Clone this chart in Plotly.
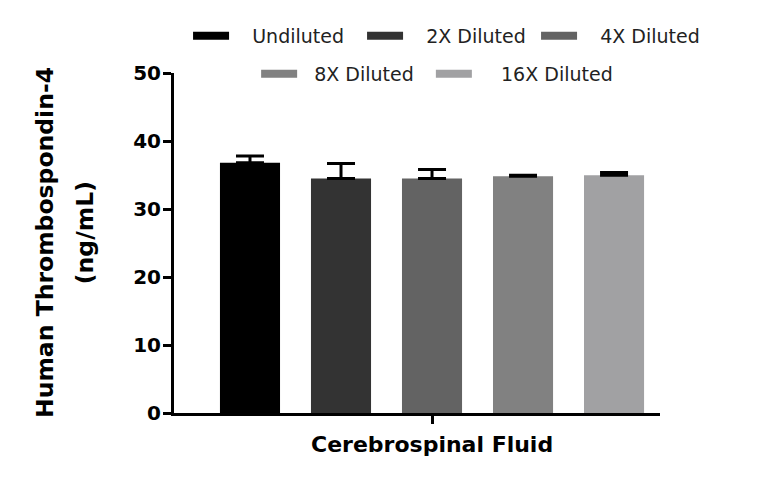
import plotly.graph_objects as go

categories = ["Cerebrospinal Fluid"]
series_names = ["Undiluted", "2X Diluted", "4X Diluted", "8X Diluted", "16X Diluted"]
values = [36.8, 34.5, 34.5, 34.8, 34.95]
errors = [1.0, 2.2, 1.3, 0.15, 0.4]
colors = ["#000000", "#333333", "#636363", "#818181", "#a1a1a3"]
y_ticks = [0, 10, 20, 30, 40, 50]
legend_lead = [3, 3, 3, 2, 4]
legend_trail = [0, 0, 0, 2, 0]

BOLD = "DejaVu Sans"
NB = "\u00a0"
fig = go.Figure()
for i, (name, v, e, c) in enumerate(zip(series_names, values, errors, colors)):
    fig.add_trace(go.Bar(
        x=categories, y=[v], name=name, marker=dict(color=c, line=dict(width=0)),
        error_y=dict(type="data", array=[e], arrayminus=[0], symmetric=False,
                     color="black", thickness=3, width=14),
        showlegend=False, offsetgroup=str(i)))
    fig.add_trace(go.Scatter(
        x=[None], y=[None], mode="lines", name=NB * legend_lead[i] + name + NB * legend_trail[i],
        line=dict(color=c, width=8),
        legend="legend" if i < 3 else "legend2"))

leg_font = dict(size=19, family="DejaVu Sans", color="#222")
fig.update_layout(
    width=768, height=482,
    margin=dict(l=174, r=108, t=73, b=69, autoexpand=False),
    paper_bgcolor="white", plot_bgcolor="white",
    barmode="group", bargap=0, bargroupgap=0.34,
    font=dict(family=BOLD, color="black"),
    legend=dict(orientation="h", x=1.103, xanchor="right", y=1.109, yanchor="middle",
                font=leg_font, itemwidth=36, entrywidth=123, bgcolor="rgba(0,0,0,0)", borderwidth=0),
    legend2=dict(orientation="h", x=0.169, xanchor="left", y=0.997, yanchor="middle",
                 font=leg_font, itemwidth=36, bgcolor="rgba(0,0,0,0)", borderwidth=0),
    xaxis=dict(type="category", range=[-0.567, 0.501], showline=True, linewidth=3, linecolor="black",
               ticks="outside", ticklen=8, tickwidth=3, tickcolor="black",
               showticklabels=False),
    yaxis=dict(range=[0, 50], tickvals=y_ticks, ticktext=[f"<b>{t}</b>" for t in y_ticks],
               showline=True, linewidth=3, linecolor="black", showgrid=False, zeroline=False,
               ticks="outside", ticklen=8, tickwidth=3, tickcolor="black",
               ticklabelstandoff=-2,
               tickfont=dict(size=20, family=BOLD)),
    annotations=[
        dict(text="<b>Cerebrospinal Fluid</b>", xref="paper", yref="paper", x=0.531, y=-0.094,
             xanchor="center", yanchor="middle", showarrow=False, font=dict(size=22, family=BOLD)),
        dict(text="<b>Human Thrombospondin-4</b>", xref="paper", yref="paper", x=-0.2654, y=0.5,
             xanchor="center", yanchor="middle", textangle=-90, showarrow=False,
             font=dict(size=23.5, family=BOLD)),
        dict(text="<b>(ng/mL)</b>", xref="paper", yref="paper", x=-0.1831, y=0.529,
             xanchor="center", yanchor="middle", textangle=-90, showarrow=False,
             font=dict(size=23.5, family=BOLD)),
    ],
)
fig.write_html("out.html")
